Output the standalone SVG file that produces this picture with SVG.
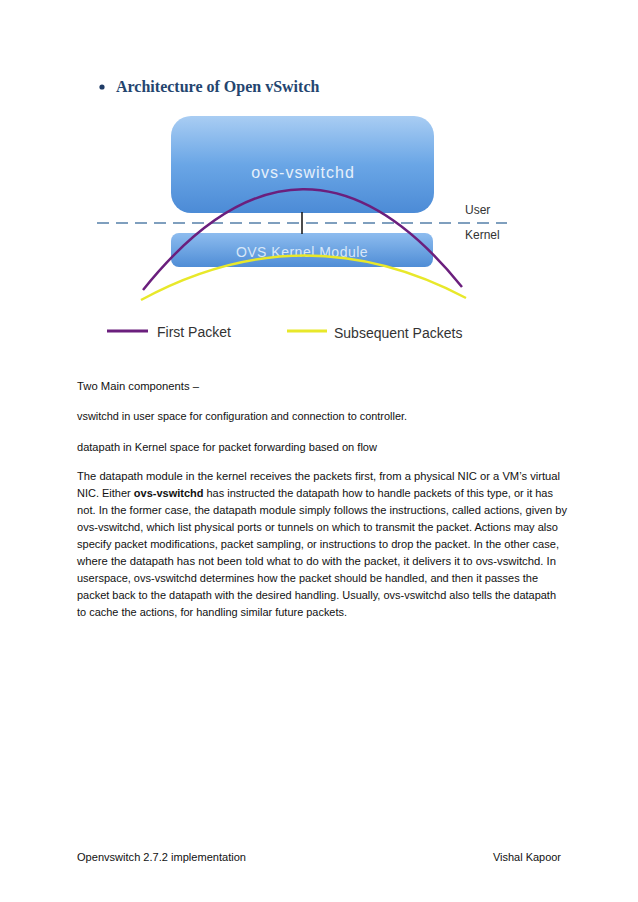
<svg xmlns="http://www.w3.org/2000/svg" width="638" height="902" viewBox="0 0 638 902">
<defs>
<linearGradient id="gu" x1="0" y1="0" x2="0" y2="1"><stop offset="0" stop-color="#a9cdf3"/><stop offset="0.5" stop-color="#6aa6e6"/><stop offset="1" stop-color="#4c8bd6"/></linearGradient>
<linearGradient id="gk" x1="0" y1="0" x2="0" y2="1"><stop offset="0" stop-color="#8dbcef"/><stop offset="1" stop-color="#4f8dd6"/></linearGradient>
</defs>
<style>
.b{font-family:"Liberation Sans",Arial,sans-serif;font-size:11px;fill:#111}
.d{font-family:"Liberation Sans",Arial,sans-serif;fill:#333}
</style>
<rect width="638" height="902" fill="#fff"/>
<circle cx="102" cy="87" r="2.6" fill="#1f3b66"/>
<text x="116" y="92" font-family="Liberation Serif,serif" font-weight="bold" font-size="16" fill="#24456f">Architecture of Open vSwitch</text>
<g id="ovs-vswitchd"><rect x="171" y="116" width="263" height="97" rx="20" fill="url(#gu)"/><text x="303" y="178" text-anchor="middle" font-family="Liberation Sans,sans-serif" font-size="16" fill="#e6f0fb" letter-spacing="1">ovs-vswitchd</text></g>
<g id="kernel-module"><rect x="171" y="233" width="262" height="34" rx="8" fill="url(#gk)"/><text x="302" y="257" text-anchor="middle" font-family="Liberation Sans,sans-serif" font-size="14" fill="#d8e7f8" letter-spacing="0.5">OVS Kernel Module</text></g>
<g id="connectors" fill="none">
<line x1="97" y1="223" x2="507" y2="223" stroke="#7f9fbe" stroke-width="2" stroke-dasharray="12,7"/>
<line x1="302" y1="212" x2="302" y2="234" stroke="#111" stroke-width="1.5"/>
<path d="M143,290 Q303,90 462,287" stroke="#6b1f7d" stroke-width="2.5"/>
<path d="M141,300 Q303,212 466,298" stroke="#e8e82a" stroke-width="2.5"/>
</g>
<text x="465" y="214" class="d" font-size="12">User</text>
<text x="465" y="239" class="d" font-size="12">Kernel</text>
<line x1="107" y1="331" x2="148" y2="331" stroke="#6b1f7d" stroke-width="3"/>
<text x="157" y="337" class="d" font-size="14">First Packet</text>
<line x1="287" y1="331" x2="327" y2="331" stroke="#e8e82a" stroke-width="3"/>
<text x="334" y="338" class="d" font-size="14">Subsequent Packets</text>
<text x="77" y="390" class="b" textLength="122" lengthAdjust="spacingAndGlyphs">Two Main components –</text>
<text x="77" y="420" class="b" textLength="330" lengthAdjust="spacingAndGlyphs">vswitchd in user space for configuration and connection to controller.</text>
<text x="77" y="451" class="b" textLength="300" lengthAdjust="spacingAndGlyphs">datapath in Kernel space for packet forwarding based on flow</text>
<text x="77" y="480" class="b" textLength="483" lengthAdjust="spacingAndGlyphs">The datapath module in the kernel receives the packets first, from a physical NIC or a VM’s virtual</text>
<text x="77" y="497" class="b" textLength="476" lengthAdjust="spacingAndGlyphs">NIC. Either <tspan font-weight="bold">ovs-vswitchd</tspan> has instructed the datapath how to handle packets of this type, or it has</text>
<text x="77" y="514" class="b" textLength="490" lengthAdjust="spacingAndGlyphs">not. In the former case, the datapath module simply follows the instructions, called actions, given by</text>
<text x="77" y="531" class="b" textLength="481" lengthAdjust="spacingAndGlyphs">ovs-vswitchd, which list physical ports or tunnels on which to transmit the packet. Actions may also</text>
<text x="77" y="548" class="b" textLength="482" lengthAdjust="spacingAndGlyphs">specify packet modifications, packet sampling, or instructions to drop the packet. In the other case,</text>
<text x="77" y="565" class="b" textLength="479" lengthAdjust="spacingAndGlyphs">where the datapath has not been told what to do with the packet, it delivers it to ovs-vswitchd. In</text>
<text x="77" y="582" class="b" textLength="461" lengthAdjust="spacingAndGlyphs">userspace, ovs-vswitchd determines how the packet should be handled, and then it passes the</text>
<text x="77" y="599" class="b" textLength="479" lengthAdjust="spacingAndGlyphs">packet back to the datapath with the desired handling. Usually, ovs-vswitchd also tells the datapath</text>
<text x="77" y="616" class="b" textLength="270" lengthAdjust="spacingAndGlyphs">to cache the actions, for handling similar future packets.</text>
<text x="77" y="861" class="b" textLength="169" lengthAdjust="spacingAndGlyphs">Openvswitch 2.7.2 implementation</text>
<text x="561" y="861" class="b" text-anchor="end" textLength="68" lengthAdjust="spacingAndGlyphs">Vishal Kapoor</text>
</svg>
